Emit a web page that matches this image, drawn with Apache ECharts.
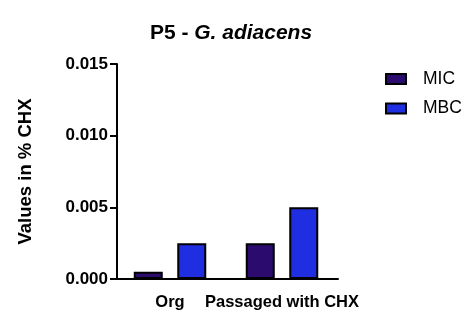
<!DOCTYPE html>
<html><head><meta charset="utf-8">
<script src="https://cdn.jsdelivr.net/npm/echarts@6/dist/echarts.min.js"></script>
<style>html,body{margin:0;padding:0;background:#fff}#c{width:474px;height:323px}</style>
</head><body><div id="c"></div>
<script>
var categories = ['Org', 'Passaged with CHX'];
var micValues = [0.0005, 0.0025];
var mbcValues = [0.0025, 0.005];
var yTicks = [0, 0.005, 0.010, 0.015];
var seriesNames = ['MIC', 'MBC'];

var FONT = '"Liberation Sans", Arial, sans-serif';
var chart = echarts.init(document.getElementById('c'));
chart.setOption({
  animation: false,
  title: {
    text: '{a|P5 - }{b|G. adiacens}',
    left: 226, top: 18, textAlign: 'center',
    textStyle: {
      rich: {
        a: {fontFamily: FONT, fontWeight: 'bold', fontSize: 21, color: '#000'},
        b: {fontFamily: FONT, fontWeight: 'bold', fontStyle: 'italic', fontSize: 21, color: '#000'}
      }
    }
  },
  legend: {
    data: seriesNames,
    orient: 'vertical',
    left: 380, top: 65,
    icon: 'rect',
    itemWidth: 20, itemHeight: 10, itemGap: 11.5,
    textStyle: {fontFamily: FONT, fontSize: 17.5, color: '#000', padding: [0, 0, 0, 12]}
  },
  grid: {left: 114, top: 64, width: 224, height: 215, containLabel: false},
  xAxis: {
    type: 'category',
    data: categories,
    axisLine: {lineStyle: {color: '#000', width: 2}},
    axisTick: {alignWithLabel: true, length: 8, lineStyle: {color: '#000', width: 2}},
    axisLabel: {fontFamily: FONT, fontWeight: 'bold', fontSize: 16.5, color: '#000', margin: 15, interval: 0}
  },
  yAxis: {
    type: 'value',
    min: 0, max: 0.015, interval: 0.005,
    offset: -3,
    name: 'Values in % CHX',
    nameLocation: 'middle', nameGap: 82,
    nameTextStyle: {fontFamily: FONT, fontWeight: 'bold', fontSize: 18.5, color: '#000'},
    axisLine: {show: true, lineStyle: {color: '#000', width: 2}},
    axisTick: {show: true, length: 7, lineStyle: {color: '#000', width: 2}},
    splitLine: {show: false},
    axisLabel: {
      fontFamily: FONT, fontWeight: 'bold', fontSize: 17, color: '#000', margin: 9,
      formatter: function (v) { return v.toFixed(3); }
    }
  },
  series: [
    {name: seriesNames[0], type: 'bar', data: micValues, barWidth: 29, barGap: '50%',
     itemStyle: {color: '#2c0b6e', borderColor: '#000', borderWidth: 2}},
    {name: seriesNames[1], type: 'bar', data: mbcValues, barWidth: 29,
     itemStyle: {color: '#1f2ee0', borderColor: '#000', borderWidth: 2}}
  ]
});
</script></body></html>
